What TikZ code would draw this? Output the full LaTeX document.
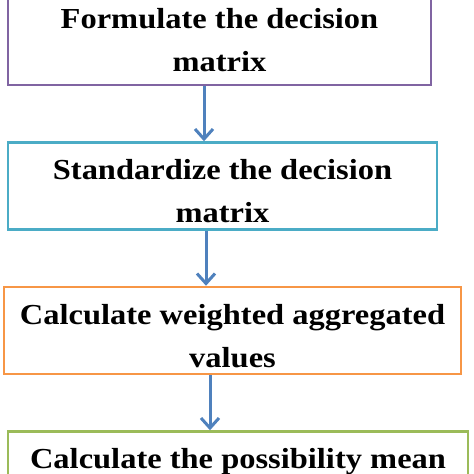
\documentclass[tikz,border=0pt]{standalone}
\usepackage{fontspec}
\newfontfamily\boxfont{Liberation Serif}[FakeStretch=1.12]
\usetikzlibrary{positioning,arrows.meta}
\definecolor{stepPurple}{HTML}{8064A2}
\definecolor{stepCyan}{HTML}{4BACC6}
\definecolor{stepOrange}{HTML}{F79646}
\definecolor{stepGreen}{HTML}{9BBB59}
\definecolor{arrowBlue}{HTML}{4F81BD}
\begin{document}
\begin{tikzpicture}[node distance={55pt}, main/.style = {draw, line width=2.5pt, align=center, minimum height=87pt, text height=73pt, text depth=0pt, font=\boxfont\bfseries\fontsize{29pt}{43pt}\selectfont}, flow/.style = {draw=arrowBlue, line width=3pt, -{Straight Barb[length=10pt,width=18pt]}}]
	\useasboundingbox (0,0) rectangle (474pt,-474pt);
		\node[main, draw=stepPurple, minimum width=423pt, minimum height=100pt] (1) at (219.5pt,-35pt) {Formulate the decision\\matrix};
		\node[main, draw=stepCyan, minimum width=429pt] (2) [below=of 1, xshift=3pt] {Standardize the decision\\matrix};
		\node[main, draw=stepOrange, minimum width=457pt] (3) [below=of 2, xshift=10pt] {Calculate weighted aggregated\\values};
		\node[main, draw=stepGreen, minimum width=460pt, text height=30pt, text depth=43pt] (4) [below=of 3, xshift=5.5pt] {Calculate the possibility mean};
		\draw[flow] ([xshift=-15.5pt]1.south) -- ([xshift=-15.5pt]1.south |- 2.north);
		\draw[flow] ([xshift=-16.5pt]2.south) -- ([xshift=-16.5pt]2.south |- 3.north);
		\draw[flow] ([xshift=-22.5pt]3.south) -- ([xshift=-22.5pt]3.south |- 4.north);
	\end{tikzpicture}
\end{document}
